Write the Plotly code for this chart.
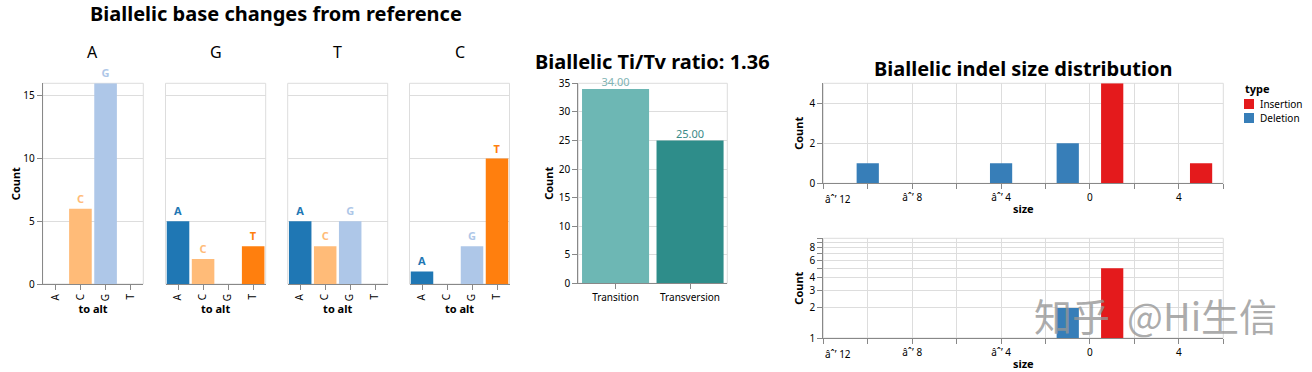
import plotly.graph_objects as go

W, H = 1312, 372
FONT = "Noto Sans"

# ---------------- data ----------------
ref_bases = ["A", "G", "T", "C"]
alt_bases = ["A", "C", "G", "T"]
base_colors = ["#1f77b4", "#ffbb78", "#aec7e8", "#ff7f0e"]
counts_from_A = [0, 6, 16, 0]
counts_from_G = [5, 2, 0, 3]
counts_from_T = [5, 3, 5, 0]
counts_from_C = [1, 0, 3, 10]

titv_classes = ["Transition", "Transversion"]
titv_counts = [34, 25]
titv_colors = ["#6db7b4", "#2e8d8a"]

indel_types = ["Insertion", "Deletion"]
indel_colors = ["#e41a1c", "#377eb8"]
insertion_sizes = [1, 5]
insertion_counts = [5, 1]
deletion_sizes = [-10, -4, -1]
deletion_counts = [1, 1, 2]
indel_tick_vals = [-12, -10, -8, -6, -4, -2, 0, 2, 4, 6]
indel_tick_text = ["", "", "âˆ’\u00a08", "", "âˆ’\u00a04", "", "0", "", "4", ""]
indel_first_label = "âˆ’\u00a012"
log_tick_vals = [1, 2, 3, 4, 5, 6, 7, 8, 9, 10]
log_tick_text = ["1", "2", "3", "4", "", "6", "", "8", "", ""]

# ---------------- helpers ----------------
def xd(a, b):
    return [a / W, b / W]

def yd(top, bot):
    return [1 - bot / H, 1 - top / H]

GRID = "#dddddd"
DOMAIN = "#888888"
TICKF = dict(size=10, color="#000000", family=FONT)
TITLEF = dict(size=11, color="#000000", family=FONT)

fig = go.Figure()
layout = {}
shapes = []
annotations = []

def axname(i, kind):
    return f"{kind}axis" if i == 1 else f"{kind}axis{i}"

def ref(i, kind):
    return kind if i == 1 else f"{kind}{i}"

# ---------------- base change facets ----------------
facet_px = [(42.7, 143.3), (165.5, 265.7), (287.7, 387.7), (409.5, 509.5)]
facet_y = (83.3, 284)
facet_counts = [counts_from_A, counts_from_G, counts_from_T, counts_from_C]
for k, (rb, vals) in enumerate(zip(ref_bases, facet_counts)):
    i = k + 1
    xs = [a for a, v in zip(alt_bases, vals) if v > 0]
    ys = [v for v in vals if v > 0]
    cs = [c for c, v in zip(base_colors, vals) if v > 0]
    fig.add_trace(go.Bar(
        x=xs, y=ys, marker=dict(color=cs, line=dict(width=0)),
        text=xs, texttemplate="<b>%{text}</b>", textposition="outside",
        textfont=dict(color=cs, size=11, family=FONT), cliponaxis=False,
        xaxis=ref(i, "x"), yaxis=ref(i, "y"), showlegend=False, hoverinfo="x+y"))
    a, b = facet_px[k]
    layout[axname(i, "x")] = dict(
        domain=xd(a, b), anchor=ref(i, "y"), type="category",
        categoryorder="array", categoryarray=alt_bases, range=[-0.5, 3.5],
        showgrid=False, showline=True, linecolor=DOMAIN, linewidth=1,
        ticks="outside", ticklen=5, tickcolor=DOMAIN, tickangle=-90,
        tickfont=TICKF, zeroline=False, automargin=False,
        title=dict(text="<b>to alt</b>", font=TITLEF, standoff=2))
    ya = dict(
        domain=yd(*facet_y), anchor=ref(i, "x"), range=[0, 16],
        tickvals=[0, 5, 10, 15], showgrid=True, gridcolor=GRID, gridwidth=1,
        zeroline=False, automargin=False, tickfont=TICKF)
    if k == 0:
        ya.update(showline=True, linecolor=DOMAIN, ticks="outside", ticklen=5,
                  tickcolor=DOMAIN,
                  title=dict(text="<b>Count</b>", font=TITLEF, standoff=0))
    else:
        ya.update(showline=False, showticklabels=False, ticks="")
    layout[axname(i, "y")] = ya
    shapes.append(dict(type="rect", xref=f"{ref(i,'x')} domain", yref=f"{ref(i,'y')} domain",
                       x0=0, x1=1, y0=0, y1=1, line=dict(color=GRID, width=1), layer="below"))
    annotations.append(dict(text=rb, x=(a + b) / 2 / W, y=1 - 52 / H, xref="paper", yref="paper",
                            showarrow=False, xanchor="center", yanchor="middle",
                            font=dict(size=16, color="#000", family=FONT)))

annotations.append(dict(text="<b>Biallelic base changes from reference</b>", x=276 / W, y=1 - 14 / H,
                        xref="paper", yref="paper", showarrow=False, xanchor="center", yanchor="middle",
                        font=dict(size=20, color="#000", family=FONT)))

# ---------------- Ti/Tv ----------------
ratio = titv_counts[0] / titv_counts[1]
fig.add_trace(go.Bar(
    x=titv_classes, y=titv_counts, marker=dict(color=titv_colors, line=dict(width=0)),
    xaxis="x5", yaxis="y5", showlegend=False))
fig.add_trace(go.Scatter(
    x=titv_classes, y=titv_counts, mode="text", text=[f"{v:.2f}" for v in titv_counts],
    textposition="top center", cliponaxis=False,
    textfont=dict(color=["#80b3b3", "#3a8a88"], size=11, family=FONT),
    xaxis="x5", yaxis="y5", showlegend=False, hoverinfo="skip"))
layout["xaxis5"] = dict(domain=xd(578.3, 727.3), anchor="y5", type="category",
                        range=[-0.5, 1.5], showgrid=False, showline=True, linecolor=DOMAIN,
                        ticks="outside", ticklen=5, tickcolor=DOMAIN, tickfont=TICKF,
                        zeroline=False, automargin=False)
layout["yaxis5"] = dict(domain=yd(83.3, 283.3), anchor="x5", range=[0, 35], dtick=5,
                        showgrid=True, gridcolor=GRID, showline=True, linecolor=DOMAIN,
                        ticks="outside", ticklen=5, tickcolor=DOMAIN, tickfont=TICKF,
                        zeroline=False, automargin=False,
                        title=dict(text="<b>Count</b>", font=TITLEF, standoff=2))
shapes.append(dict(type="rect", xref="x5 domain", yref="y5 domain", x0=0, x1=1, y0=0, y1=1,
                   line=dict(color=GRID, width=1), layer="below"))
annotations.append(dict(text=f"<b>Biallelic Ti/Tv ratio: {ratio:.2f}</b>", x=652 / W, y=1 - 62 / H,
                        xref="paper", yref="paper", showarrow=False, xanchor="center", yanchor="middle",
                        font=dict(size=20, color="#000", family=FONT)))

# ---------------- Indel size ----------------
indel_panels = [(6, (83.3, 183.3), "linear"), (7, (238.3, 338.0), "log")]
for i, (top, bot), ytype in indel_panels:
    fig.add_trace(go.Bar(x=insertion_sizes, y=insertion_counts, width=1, name="Insertion",
                         marker=dict(color=indel_colors[0], line=dict(width=0)),
                         xaxis=ref(i, "x"), yaxis=ref(i, "y"), showlegend=False))
    fig.add_trace(go.Bar(x=deletion_sizes, y=deletion_counts, width=1, name="Deletion",
                         marker=dict(color=indel_colors[1], line=dict(width=0)),
                         xaxis=ref(i, "x"), yaxis=ref(i, "y"), showlegend=False))
    layout[axname(i, "x")] = dict(
        domain=xd(823.3, 1223.3), anchor=ref(i, "y"), range=[-12, 6],
        tickvals=indel_tick_vals, ticktext=indel_tick_text,
        showgrid=True, gridcolor=GRID, showline=True, linecolor=DOMAIN,
        ticks="outside", ticklen=5, tickcolor=DOMAIN, tickfont=TICKF,
        zeroline=False, automargin=False,
        title=dict(text="<b>size</b>", font=TITLEF, standoff=2))
    if ytype == "linear":
        ya = dict(range=[0, 5], tickvals=[0, 2, 4])
    else:
        ya = dict(type="log", range=[0, 1], tickvals=log_tick_vals, ticktext=log_tick_text)
    ya.update(domain=yd(top, bot), anchor=ref(i, "x"), showgrid=True, gridcolor=GRID,
              showline=True, linecolor=DOMAIN, ticks="outside", ticklen=5, tickcolor=DOMAIN,
              tickfont=TICKF, zeroline=False, automargin=False,
              title=dict(text="<b>Count</b>", font=TITLEF, standoff=3))
    layout[axname(i, "y")] = ya
    shapes.append(dict(type="rect", xref=f"{ref(i,'x')} domain", yref=f"{ref(i,'y')} domain",
                       x0=0, x1=1, y0=0, y1=1, line=dict(color=GRID, width=1), layer="below"))
    # first tick label, flush-left with the axis start
    annotations.append(dict(text=indel_first_label, x=indel_tick_vals[0], xref=ref(i, "x"),
                            y=0, yref=f"{ref(i,'y')} domain", yshift=-7,
                            showarrow=False, xanchor="left", yanchor="top", font=TICKF))

annotations.append(dict(text="<b>Biallelic indel size distribution</b>", x=1023 / W, y=1 - 68 / H,
                        xref="paper", yref="paper", showarrow=False, xanchor="center", yanchor="middle",
                        font=dict(size=20, color="#000", family=FONT)))

# legend (manual)
annotations.append(dict(text="<b>type</b>", x=1243 / W, y=1 - 88 / H, xref="paper", yref="paper",
                        showarrow=False, xanchor="left", yanchor="middle", font=TITLEF))
for j, (nm, col) in enumerate(zip(indel_types, indel_colors)):
    cy = 104 + 14 * j
    shapes.append(dict(type="rect", xref="paper", yref="paper",
                       x0=1244 / W, x1=1254 / W, y0=1 - (cy + 5) / H, y1=1 - (cy - 5) / H,
                       fillcolor=col, line=dict(width=0)))
    annotations.append(dict(text=nm, x=1258 / W, y=1 - cy / H, xref="paper", yref="paper",
                            showarrow=False, xanchor="left", yanchor="middle",
                            font=dict(size=10, color="#000", family=FONT)))

# watermark
annotations.append(dict(text="知乎\u00a0\u00a0@Hi生信", x=1155 / W, y=1 - 314 / H, xref="paper", yref="paper",
                        showarrow=False, xanchor="center", yanchor="middle",
                        font=dict(size=38, color="rgba(150,150,150,0.8)", family="Noto Sans CJK SC")))

fig.update_layout(**layout)
fig.update_layout(
    width=W, height=H, margin=dict(l=0, r=0, t=0, b=0, pad=0),
    paper_bgcolor="white", plot_bgcolor="white",
    barmode="overlay", bargap=0.1,
    font=dict(family=FONT, color="#000"),
    shapes=shapes, annotations=annotations, showlegend=False)

fig.write_html("out.html", config={"displayModeBar": False},
               post_script="document.body.style.margin='0';document.body.style.padding='0';")
